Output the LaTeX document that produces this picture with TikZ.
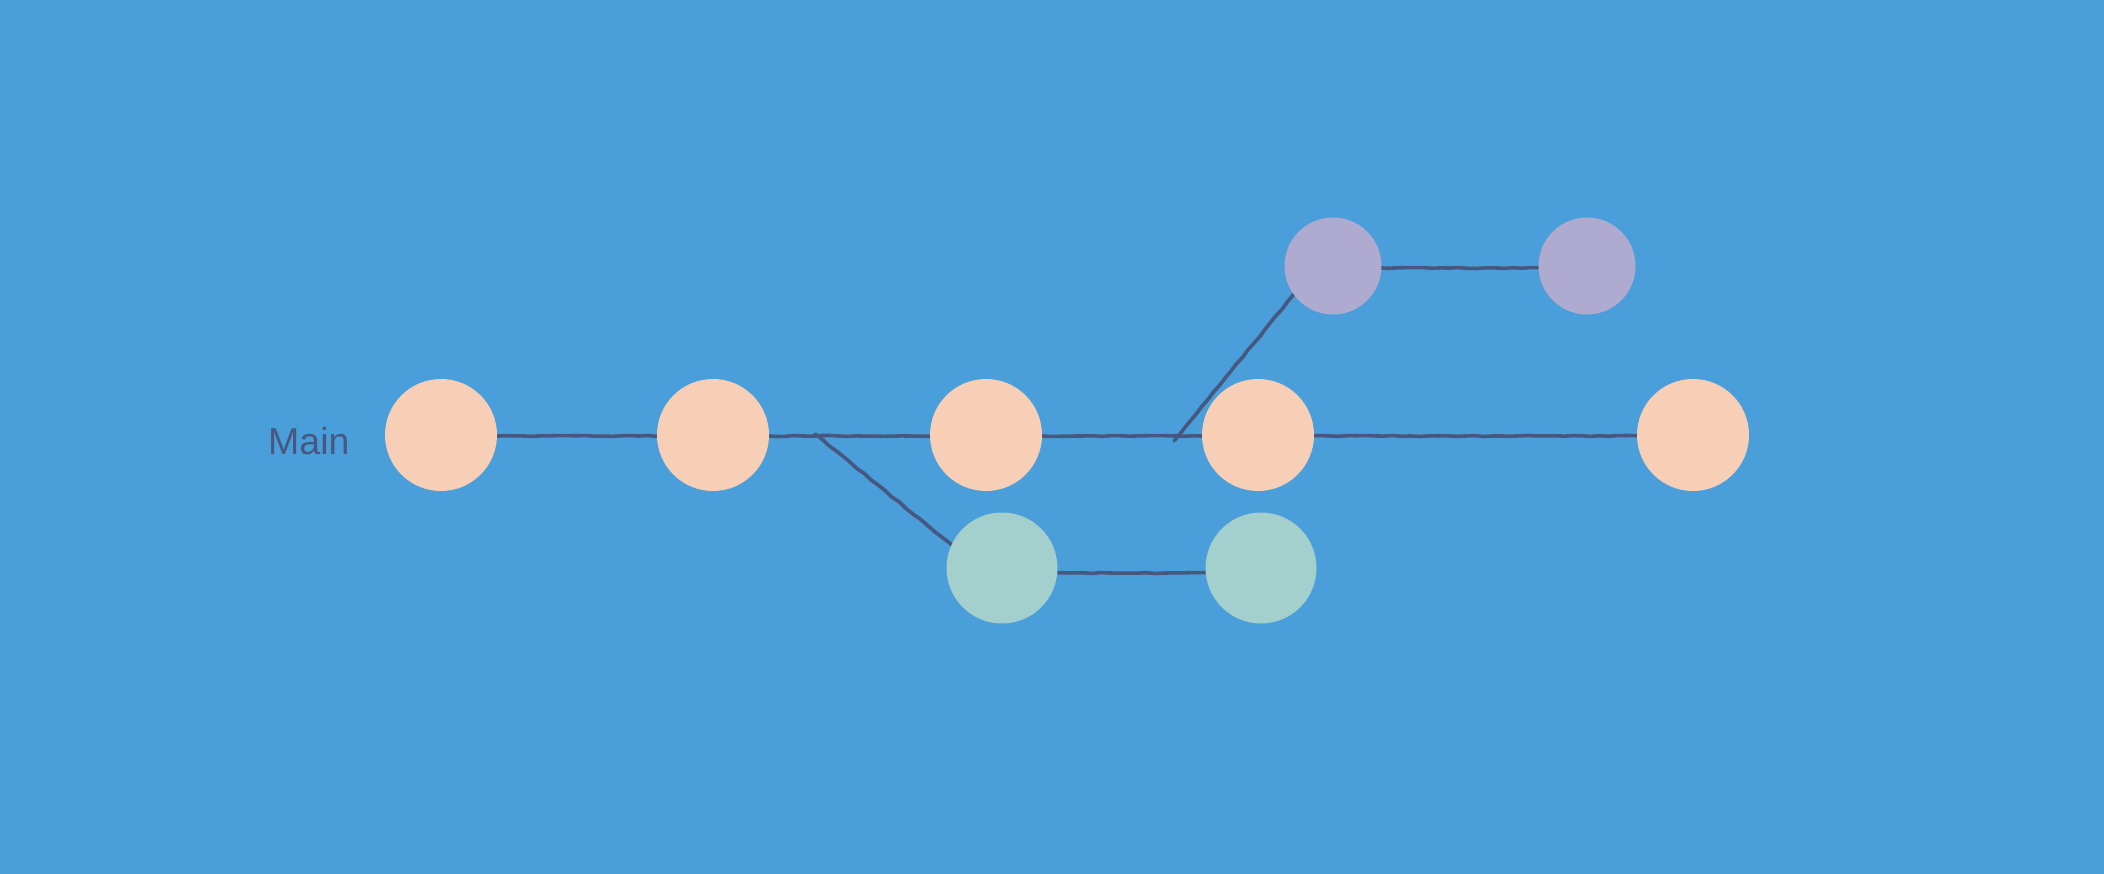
\documentclass[tikz,border=0pt]{standalone}
\usepackage{fontspec}
\usetikzlibrary{backgrounds,decorations.pathmorphing}
\newfontfamily\labfont{Liberation Sans}
\definecolor{bg}{HTML}{4A9EDA}
\definecolor{peach}{HTML}{F7CFB6}
\definecolor{teal}{HTML}{A3CFCD}
\definecolor{lilac}{HTML}{AFAACF}
\definecolor{ink}{HTML}{475880}
\begin{document}
\begin{tikzpicture}[x=1pt,y=-1pt,
  commit/.style={circle,inner sep=0pt,draw=none},
  mainc/.style={commit,fill=peach,minimum size=112pt},
  featc/.style={commit,fill=teal,minimum size=111pt},
  topc/.style={commit,fill=lilac,minimum size=97pt},
  link/.style={draw=ink,line width=3.6pt,line cap=round,line join=round,
    decorate,decoration={random steps,segment length=9pt,amplitude=0.5pt}},
  lab/.style={inner sep=0pt,text=ink,font=\labfont\fontsize{37.5}{40}\selectfont}]
\pgfmathsetseed{7}
\useasboundingbox (0,0) rectangle (2104,874);
\node[lab,anchor=base west] (mainlab) at (268,454) {Main};
\node[mainc] (m1) at (441,435) {};
\node[mainc] (m2) at (713,435) {};
\node[mainc] (m3) at (986,435) {};
\node[mainc] (m4) at (1258,435) {};
\node[mainc] (m5) at (1693,435) {};
\node[featc] (t1) at (1002,568) {};
\node[featc] (t2) at (1261,568) {};
\node[topc] (p1) at (1333,266) {};
\node[topc] (p2) at (1587,266) {};
\coordinate (b1) at (815,434);
\coordinate (b2) at (1174,441);
\begin{scope}[on background layer]
\fill[bg] (0,0) rectangle (2104,874);
\draw[link] ([yshift=-1pt]m1.center) -- ([yshift=-1pt]m2.center);
\draw[link] ([yshift=-1pt]m2.center) -- ([yshift=-1pt]m3.center);
\draw[link] ([yshift=-1pt]m3.center) -- ([yshift=-1pt]m4.center);
\draw[link] ([yshift=-1pt]m4.center) -- ([yshift=-1pt]m5.center);
\draw[link] (b1) -- ([xshift=-22pt]t1.center);
\draw[link] ([yshift=-5pt]t1.center) -- ([yshift=-5pt]t2.center);
\draw[link] (b2) -- ([xshift=-16pt]p1.center);
\draw[link] ([yshift=-2pt]p1.center) -- ([yshift=-2pt]p2.center);
\end{scope}
\end{tikzpicture}
\end{document}
